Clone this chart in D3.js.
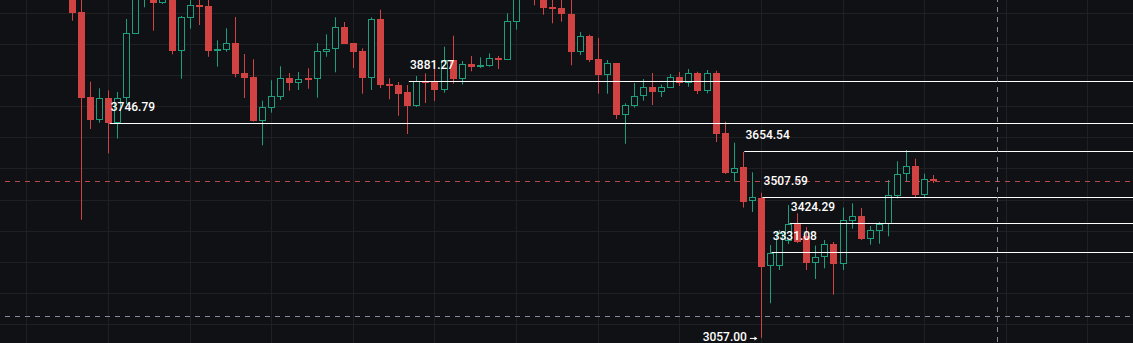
<!DOCTYPE html>
<html>
<head>
<meta charset="utf-8">
<script src="https://cdn.jsdelivr.net/npm/d3@7"></script>
<style>
  html, body { margin: 0; padding: 0; background: #101114; overflow: hidden; }
  svg { display: block; }
</style>
</head>
<body>
<svg width="1133" height="343"></svg>
<script>
// OHLC per bar (bar 0 = leftmost visible bar)
var opens = [4190.9,4104.1,3831.0,3757.2,3826.9,3746.79,3826.9,4034.4,4158.8,4207.0,
  4134.0,4174.8,3979.8,4085.8,4126.6,4123.4,3979.8,3983.0,4004.5,3908.2,
  3895.3,3754.9,3796.7,3832.0,3892.1,3877.0,3892.1,3887.9,3976.6,3984.3,
  4056.0,4004.5,3978.8,3893.1,4081.7,3872.8,3869.6,3847.1,3802.1,3881.27,
  3881.5,3853.5,3949.9,3887.9,3937.1,3928.4,3931.6,3956.4,3950.9,4073.0,
  4271.2,4239.1,4174.8,4121.2,4117.0,4097.7,3976.6,4027.0,3953.1,3902.7,
  3940.3,3774.2,3803.1,3833.3,3862.2,3847.1,3860.9,3895.3,3875.1,3908.2,
  3851.3,3908.2,3714.4,3587.8,3606.1,3496.0,3507.59,3287.1,3288.1,3368.4,
  3425.3,3384.5,3299.3,3316.0,3357.8,3295.5,3433.6,3448.7,3374.8,3401.5,
  3422.0,3513.0,3582.7,3609.4,3517.1,3568.6];
var highs = [4223.0,4152.3,3880.2,3859.0,3852.6,3847.1,4081.7,4239.0,4271.2,4239.0,
  4223.0,4190.9,4091.3,4149.1,4152.3,4149.1,4013.2,4051.8,4088.1,3969.2,
  3952.2,3819.2,3884.7,3929.7,3908.2,3911.4,3923.3,4004.5,4032.5,4087.1,
  4072.0,4004.5,3987.5,4087.1,4111.5,3891.1,3879.2,3869.6,3898.5,3907.2,
  3946.7,3992.7,4028.0,3946.7,3962.8,3958.6,3971.4,3962.8,4100.0,4223.0,
  4303.0,4271.2,4190.9,4149.1,4149.1,4149.1,4039.9,4031.2,4020.6,3949.9,
  3940.3,3810.8,3876.0,3888.9,3908.2,3870.6,3904.9,3911.4,3921.0,3912.3,
  3917.8,3915.5,3751.7,3684.2,3654.54,3589.1,3523.6,3355.5,3403.7,3484.1,
  3457.4,3413.4,3353.9,3371.6,3365.2,3476.0,3489.5,3474.4,3416.6,3429.4,
  3564.4,3624.5,3660.8,3632.8,3584.6,3580.4];
var lows = [4076.2,3436.8,3728.2,3748.5,3650.0,3697.7,3808.6,4034.0,4119.2,4044.1,
  4129.9,3968.2,3889.8,4050.5,4062.4,3960.5,3928.4,3976.6,3894.3,3827.8,
  3752.3,3675.9,3780.6,3821.4,3851.3,3853.5,3857.7,3828.8,3960.5,3910.4,
  4001.3,3924.2,3841.6,3853.5,3860.0,3823.7,3771.0,3712.2,3798.9,3811.8,
  3818.2,3844.9,3873.8,3871.2,3913.6,3924.2,3928.4,3921.0,3950.9,4047.3,
  4168.4,4125.7,4095.5,4067.8,4073.0,3932.9,3966.0,3943.5,3841.6,3841.6,
  3760.4,3681.0,3796.7,3819.2,3805.3,3831.0,3860.9,3866.4,3864.1,3840.7,
  3842.9,3686.5,3583.7,3558.9,3476.0,3461.6,3057.00,3168.2,3275.2,3358.8,
  3362.0,3275.2,3246.3,3280.7,3195.9,3275.2,3407.9,3371.6,3356.5,3359.7,
  3383.5,3505.6,3560.2,3509.8,3509.8,3554.7];
var closes = [4101.9,3828.8,3758.1,3826.9,3746.79,3826.9,4036.7,4207.0,4239.1,4134.0,
  4190.9,3979.8,4087.1,4126.6,4121.2,3979.8,3985.3,4003.6,3905.9,3893.1,
  3754.9,3797.9,3833.3,3891.1,3877.0,3887.9,3885.7,3978.8,3984.3,4055.0,
  4002.3,3976.6,3893.1,4081.7,3870.6,3867.4,3841.6,3802.1,3881.27,3877.0,
  3853.5,3949.9,3887.9,3936.1,3928.4,3933.9,3956.4,3950.9,4074.3,4190.9,
  4207.0,4168.4,4118.0,4114.7,4096.8,3976.6,4027.0,3949.9,3902.7,3940.3,
  3774.2,3804.4,3833.3,3862.2,3847.1,3862.2,3894.3,3875.1,3908.2,3851.3,
  3908.2,3713.8,3587.8,3604.5,3494.7,3508.8,3285.8,3331.08,3394.1,3424.29,
  3366.2,3297.7,3316.0,3357.8,3294.5,3434.9,3448.7,3374.8,3402.7,3423.0,
  3515.2,3582.7,3609.4,3517.1,3567.6,3560.2];

// horizontal levels and the bar each one starts from
var levels = [3881.27, 3746.79, 3654.54, 3507.59, 3424.29, 3331.08];
var levelStart = [37, 4, 74, 76, 79, 77];

var lowMark = {bar: 76, price: 3057.00};
var crosshair = {bar: 102, price: 3126.5};
var priceTicks = d3.range(3000, 4201, 100);
var gridBars = d3.range(-5, 113, 9);

var svg = d3.select("svg"),
    width = +svg.attr("width"),
    height = +svg.attr("height");

var up = "#1f9e7d", down = "#d14343";
var labelFont = "500 12px Roboto, sans-serif";

var x = d3.scaleLinear().domain([0, 95]).range([72.3, 933.7]);
var y = d3.scaleLinear().domain([3300, 4100]).range([262.3, 13.3]);

function crisp(v) { return Math.round(v - 0.5) + 0.5; }

svg.append("rect").attr("width", width).attr("height", height).attr("fill", "#101114");

// grid
var grid = svg.append("g").attr("stroke", "#1f2024").attr("stroke-width", 1);
grid.selectAll(".gx").data(gridBars).enter().append("line")
    .attr("x1", function(d) { return crisp(x(d)); })
    .attr("x2", function(d) { return crisp(x(d)); })
    .attr("y1", 0).attr("y2", height);
grid.selectAll(".gy").data(priceTicks).enter().append("line")
    .attr("y1", function(d) { return crisp(y(d)); })
    .attr("y2", function(d) { return crisp(y(d)); })
    .attr("x1", 0).attr("x2", width);

// last price line
var last = closes[closes.length - 1];
svg.append("line")
    .attr("x1", 0).attr("x2", width)
    .attr("y1", crisp(y(last))).attr("y2", crisp(y(last)))
    .attr("stroke", "#b8484c").attr("stroke-dasharray", "5,5").attr("stroke-dashoffset", 5);

// candles
var bars = d3.range(opens.length).map(function(i) {
    return {i: i, o: opens[i], h: highs[i], l: lows[i], c: closes[i]};
});

var g = svg.append("g");
bars.forEach(function(d) {
    var left = Math.round(x(d.i) - 3.5),
        cx = left + 3.5,
        top = Math.round(y(Math.max(d.o, d.c))),
        bot = Math.round(y(Math.min(d.o, d.c))),
        isUp = d.c >= d.o,
        col = isUp ? up : down;

    if (!isUp || bot - top < 3) {
        g.append("line").attr("x1", cx).attr("x2", cx)
            .attr("y1", y(d.h)).attr("y2", y(d.l))
            .attr("stroke", col);
        g.append("rect").attr("x", left).attr("y", top)
            .attr("width", 7).attr("height", Math.max(1, bot - top))
            .attr("fill", col);
    } else {
        g.append("line").attr("x1", cx).attr("x2", cx)
            .attr("y1", y(d.h)).attr("y2", top)
            .attr("stroke", col);
        g.append("line").attr("x1", cx).attr("x2", cx)
            .attr("y1", bot).attr("y2", y(d.l))
            .attr("stroke", col);
        g.append("rect").attr("x", left + 0.5).attr("y", top + 0.5)
            .attr("width", 6).attr("height", bot - top - 1)
            .attr("fill", "#101114").attr("stroke", col);
    }
});

// level lines + labels
var lv = svg.append("g");
levels.forEach(function(p, k) {
    var x0 = x(levelStart[k]) + 1;
    lv.append("line")
        .attr("x1", x0).attr("x2", width)
        .attr("y1", crisp(y(p))).attr("y2", crisp(y(p)))
        .attr("stroke", "#ffffff").attr("stroke-width", 1);
    lv.append("text")
        .attr("x", x0 + 1.2).attr("y", y(p) - 12.5)
        .attr("fill", "#ffffff")
        .style("font", labelFont)
        .text(p.toFixed(2));
});

// low marker: value + small arrow pointing at the wick
var lowX = x(lowMark.bar), lowY = y(lowMark.price);
svg.append("text")
    .attr("x", lowX - 14.5).attr("y", lowY + 2.8)
    .attr("text-anchor", "end")
    .attr("fill", "#ffffff")
    .style("font", labelFont)
    .text(lowMark.price.toFixed(2));
svg.append("line")
    .attr("x1", lowX - 11.5).attr("x2", lowX - 5)
    .attr("y1", lowY + 0.5).attr("y2", lowY + 0.5)
    .attr("stroke", "#ffffff").attr("stroke-width", 1);
svg.append("path")
    .attr("d", "M" + (lowX - 7) + "," + (lowY - 1.5) + "L" + (lowX - 4) + "," + (lowY + 0.5) +
               "L" + (lowX - 7) + "," + (lowY + 2.5) + "Z")
    .attr("fill", "#ffffff");

// crosshair
var ch = svg.append("g").attr("stroke", "#868a9c").attr("stroke-dasharray", "5,5");
ch.append("line")
    .attr("x1", crisp(x(crosshair.bar))).attr("x2", crisp(x(crosshair.bar)))
    .attr("y1", 0).attr("y2", height).attr("stroke-dashoffset", 3);
ch.append("line")
    .attr("x1", 0).attr("x2", width).attr("stroke-dashoffset", 5)
    .attr("y1", crisp(y(crosshair.price))).attr("y2", crisp(y(crosshair.price)));
</script>
</body>
</html>
